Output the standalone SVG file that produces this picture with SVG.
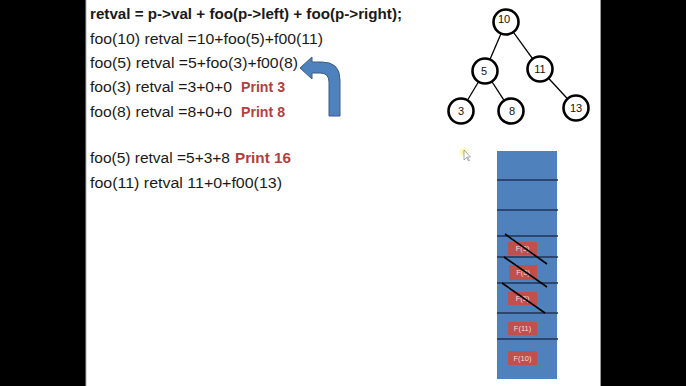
<svg xmlns="http://www.w3.org/2000/svg" width="686" height="386" viewBox="0 0 686 386">
<style>
.t{font-family:"Liberation Sans",Arial,sans-serif;font-size:15.5px;fill:#1a1a1a}
.b{font-weight:bold}
.p{font-weight:bold;fill:#b1403f}
.n{fill:#fff;stroke:#000;stroke-width:2.6}
.nt{font-family:"Liberation Sans",Arial,sans-serif;font-size:11px;fill:#111;text-anchor:middle}
.e{stroke:#000;stroke-width:1.3}
.div{stroke:#1f3557;stroke-width:1.3}
.rb{fill:#c0504d}
.rt{font-family:"Liberation Sans",Arial,sans-serif;font-size:7.5px;fill:#f3dcdc;text-anchor:middle}
.sl{stroke:#000;stroke-width:1.6}
</style>
<defs>
<radialGradient id="glow"><stop offset="0" stop-color="#f7f06a"/><stop offset="1" stop-color="#fffbd0" stop-opacity="0"/></radialGradient>
</defs>
<rect x="0" y="0" width="686" height="386" fill="#000"/>
<rect x="86" y="0" width="515" height="386" fill="#fff"/>
<line x1="86" y1="0" x2="86" y2="386" stroke="#aab0b5" stroke-width="1"/>
<line x1="600.5" y1="0" x2="600.5" y2="386" stroke="#999" stroke-width="1"/>

<g id="code">
<text class="t b" x="90" y="19" textLength="312" lengthAdjust="spacingAndGlyphs">retval = p-&gt;val + foo(p-&gt;left) + foo(p-&gt;right);</text>
<text class="t" x="90" y="44" textLength="233" lengthAdjust="spacingAndGlyphs">foo(10) retval =10+foo(5)+f00(11)</text>
<text class="t" x="90" y="68" textLength="208" lengthAdjust="spacingAndGlyphs">foo(5) retval =5+foo(3)+f00(8)</text>
<text class="t" x="90" y="92" textLength="142" lengthAdjust="spacingAndGlyphs">foo(3) retval =3+0+0</text>
<text class="t p" x="241" y="92" textLength="44" lengthAdjust="spacingAndGlyphs">Print 3</text>
<text class="t" x="90" y="117" textLength="142" lengthAdjust="spacingAndGlyphs">foo(8) retval =8+0+0</text>
<text class="t p" x="241" y="117" textLength="44" lengthAdjust="spacingAndGlyphs">Print 8</text>
<text class="t" x="90" y="163" textLength="140" lengthAdjust="spacingAndGlyphs">foo(5) retval =5+3+8</text>
<text class="t p" x="235" y="163" textLength="56" lengthAdjust="spacingAndGlyphs">Print 16</text>
<text class="t" x="90" y="188" textLength="192" lengthAdjust="spacingAndGlyphs">foo(11) retval 11+0+f00(13)</text>
</g>

<g id="arrow">
<path d="M300,68 L312,57 L312,62 L322,62 Q340,62 340,80 L340,116 L329,116 L329,82 Q329,73 320,73 L312,73 L312,79 Z" fill="#4f81bd" stroke="#385d8a" stroke-width="1"/>
</g>

<g id="tree-edges">
<line class="e" x1="506" y1="22" x2="485" y2="71"/>
<line class="e" x1="506" y1="22" x2="540" y2="69"/>
<line class="e" x1="485" y1="71" x2="461" y2="111"/>
<line class="e" x1="485" y1="71" x2="511" y2="111"/>
<line class="e" x1="540" y1="69" x2="576" y2="108"/>
</g>
<g id="node-10"><circle class="n" cx="506" cy="22" r="12.5"/><text class="nt" x="504" y="23">10</text></g>
<g id="node-5"><circle class="n" cx="485" cy="71" r="12.5"/><text class="nt" x="484" y="75">5</text></g>
<g id="node-11"><circle class="n" cx="540" cy="69" r="12.5"/><text class="nt" x="540" y="73">11</text></g>
<g id="node-3"><circle class="n" cx="461" cy="111" r="12.5"/><text class="nt" x="461" y="115">3</text></g>
<g id="node-8"><circle class="n" cx="511" cy="111" r="12.5"/><text class="nt" x="512" y="115">8</text></g>
<g id="node-13"><circle class="n" cx="576" cy="108" r="12.5"/><text class="nt" x="576" y="112">13</text></g>

<g id="stack">
<rect x="497" y="151" width="60" height="228" fill="#4f81bd"/>
<line class="div" x1="497" y1="180" x2="558" y2="180"/>
<line class="div" x1="497" y1="210" x2="558" y2="210"/>
<line class="div" x1="497" y1="236" x2="558" y2="236"/>
<line class="div" x1="497" y1="257" x2="558" y2="257"/>
<line class="div" x1="497" y1="283" x2="558" y2="283"/>
<line class="div" x1="497" y1="313" x2="558" y2="313"/>
<line class="div" x1="497" y1="339" x2="558" y2="339"/>
<rect class="rb" x="508" y="242" width="29" height="13"/><text class="rt" x="522.5" y="251">F(3)</text>
<rect class="rb" x="509" y="265" width="28" height="15"/><text class="rt" x="523" y="275">F(8)</text>
<rect class="rb" x="508" y="292" width="29" height="13"/><text class="rt" x="522.5" y="301">F(5)</text>
<rect class="rb" x="508" y="322" width="29" height="13"/><text class="rt" x="522.5" y="331">F(11)</text>
<rect class="rb" x="508" y="351" width="29" height="14"/><text class="rt" x="522.5" y="361">F(10)</text>
<line class="sl" x1="505" y1="234" x2="547" y2="264"/>
<line class="sl" x1="504" y1="257" x2="547" y2="287"/>
<line class="sl" x1="502" y1="283" x2="545" y2="313"/>
</g>

<g id="cursor">
<circle cx="464" cy="152" r="7" fill="url(#glow)"/>
<path d="M464,150 L464,160 L466.5,157.5 L468.5,161 L469.5,160.5 L467.5,157 L470.5,157 Z" fill="#fff" stroke="#777" stroke-width="0.6"/>
</g>
</svg>
